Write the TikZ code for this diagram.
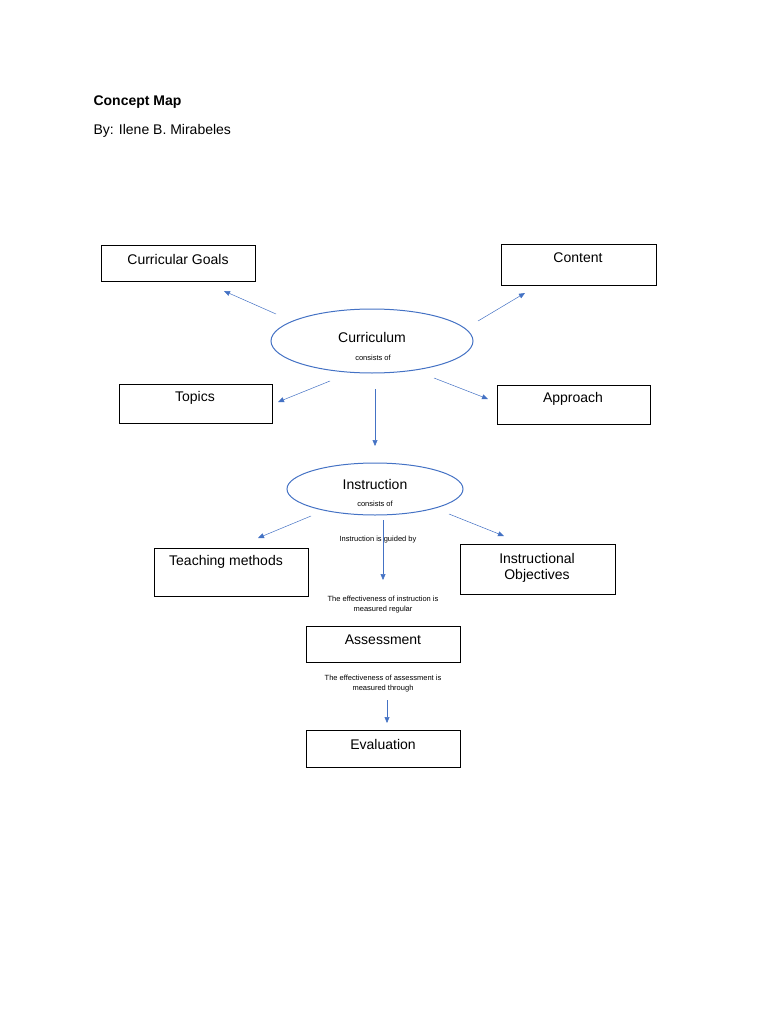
\documentclass[tikz,border=0pt]{standalone}
\usepackage{fontspec}
\setmainfont{Liberation Sans}
\usetikzlibrary{shapes.geometric,arrows.meta}
\definecolor{ab}{HTML}{4472C4}
\begin{document}
\begin{tikzpicture}[x=1pt,y=-1pt,
 box/.style={draw=black,line width=0.6pt,anchor=north west,inner sep=0pt},
 bt/.style={font=\fontsize{14}{16}\selectfont},
 sm/.style={font=\fontsize{7.5}{10}\selectfont,align=center},
 ell/.style={draw=ab,ellipse,line width=1pt,inner sep=0pt},
 arr/.style={draw=ab,line width=0.5pt,-{Triangle[length=6pt,width=5pt]}}]
\useasboundingbox (0,0) rectangle (768,1024);
\node[anchor=west,font=\bfseries\fontsize{14}{16}\selectfont] (t1) at (90,102) {Concept Map};
\node[anchor=west,bt] (t2) at (90,131) {By: Ilene B. Mirabeles};
% boxes
\node[box,minimum width=154pt,minimum height=36pt] (cg) at (101,245) {};
\node[bt] (cgt) at (178,259) {Curricular Goals};
\node[box,minimum width=155pt,minimum height=41pt] (co) at (501,244) {};
\node[bt] (cot) at (578,258) {Content};
\node[box,minimum width=153pt,minimum height=39pt] (to) at (119,384) {};
\node[bt] (tot) at (195,398) {Topics};
\node[box,minimum width=153pt,minimum height=39pt] (ap) at (497,385) {};
\node[bt] (apt) at (573,399) {Approach};
\node[box,minimum width=154pt,minimum height=48pt] (tm) at (154,548) {};
\node[bt] (tmt) at (226,562) {Teaching methods};
\node[box,minimum width=155pt,minimum height=50pt] (io) at (460,544) {};
\node[bt,align=center] (iot) at (537,568) {Instructional\\Objectives};
\node[box,minimum width=154pt,minimum height=36pt] (as) at (306,626) {};
\node[bt] (ast) at (383,640) {Assessment};
\node[box,minimum width=154pt,minimum height=37pt] (ev) at (306,730) {};
\node[bt] (evt) at (383,744) {Evaluation};
% ellipses
\node[ell,minimum width=202pt,minimum height=64pt] (cu) at (372,341) {};
\node[bt] (cut) at (372,337) {Curriculum};
\node[sm] (cuc) at (373,358) {consists of};
\node[ell,minimum width=176pt,minimum height=52pt] (in) at (375,489) {};
\node[bt] (int) at (375,484) {Instruction};
\node[sm] (inc) at (375,504) {consists of};
% labels
\node[sm] (l1) at (378,540) {Instruction is guided by};
\node[sm] (l2) at (383,605) {The effectiveness of instruction is\\measured regular};
\node[sm] (l3) at (383,684) {The effectiveness of assessment is\\measured through};
% arrow endpoints
\coordinate (a1s) at (276,314); \coordinate (a1e) at (224,291);
\coordinate (a2s) at (478,321); \coordinate (a2e) at (525,293);
\coordinate (a3s) at (330,381); \coordinate (a3e) at (278,402);
\coordinate (a4s) at (434,378); \coordinate (a4e) at (488,399);
\coordinate (a5s) at (375,389); \coordinate (a5e) at (375,446);
\coordinate (a6s) at (311,516); \coordinate (a6e) at (258,538);
\coordinate (a7s) at (449,514); \coordinate (a7e) at (504,536);
\coordinate (a8s) at (383,520); \coordinate (a8e) at (383,580);
\coordinate (a9s) at (387,700); \coordinate (a9e) at (387,723);
\foreach \i in {1,...,9}{\draw[arr] (a\i s) -- (a\i e);}
\end{tikzpicture}
\end{document}
